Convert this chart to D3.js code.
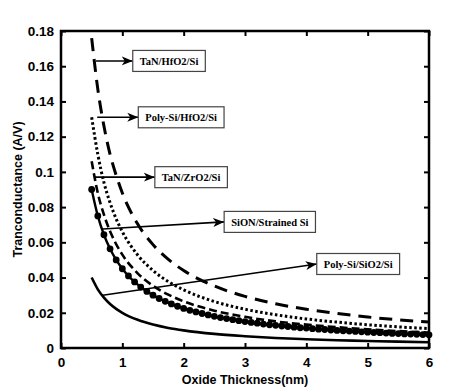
<!DOCTYPE html>
<html>
<head>
<meta charset="utf-8">
<script src="https://cdn.jsdelivr.net/npm/d3@7"></script>
<style>
  body { margin: 0; background: #fff; }
  .tick text { font-family: Arial, "Liberation Sans", sans-serif; font-weight: bold; font-size: 13.5px; }
</style>
</head>
<body>
<div id="chart"></div>
<script>
// x values (oxide thickness, nm) for the line series
const thickness = [0.5, 0.6, 0.7, 0.8, 0.9, 1.0, 1.25, 1.5, 1.75, 2.0, 2.5, 3.0, 3.5, 4.0, 4.5, 5.0, 5.5, 6.0];

// transconductance (A/V)
const tanHfo2 = [0.176, 0.147, 0.126, 0.110, 0.098, 0.088, 0.0704, 0.0587, 0.0503, 0.044, 0.0352, 0.0293, 0.0251, 0.022, 0.0196, 0.0176, 0.016, 0.0147];
const polyHfo2 = [0.131, 0.110, 0.094, 0.0825, 0.0733, 0.066, 0.0528, 0.044, 0.0377, 0.033, 0.0264, 0.022, 0.0189, 0.0165, 0.0147, 0.0132, 0.012, 0.011];
const tanZro2 = [0.106, 0.088, 0.0757, 0.0663, 0.0589, 0.053, 0.0424, 0.0353, 0.0303, 0.0265, 0.0212, 0.0177, 0.0151, 0.0133, 0.0118, 0.0106, 0.0096, 0.0088];
const polySio2 = [0.040, 0.0333, 0.0286, 0.025, 0.0222, 0.020, 0.016, 0.0133, 0.0114, 0.010, 0.008, 0.0067, 0.0057, 0.005, 0.0044, 0.004, 0.0036, 0.0033];

// SiON/Strained Si, marked every 0.1 nm
const sionThickness = [0.5, 0.6, 0.7, 0.8, 0.9, 1.0, 1.1, 1.2, 1.3, 1.4, 1.5, 1.6, 1.7, 1.8, 1.9, 2.0, 2.1, 2.2, 2.3, 2.4, 2.5, 2.6, 2.7, 2.8, 2.9, 3.0, 3.1, 3.2, 3.3, 3.4, 3.5, 3.6, 3.7, 3.8, 3.9, 4.0, 4.1, 4.2, 4.3, 4.4, 4.5, 4.6, 4.7, 4.8, 4.9, 5.0, 5.1, 5.2, 5.3, 5.4, 5.5, 5.6, 5.7, 5.8, 5.9, 6.0];
const sionStrained = [0.090, 0.075, 0.0643, 0.0563, 0.050, 0.045, 0.0409, 0.0375, 0.0346, 0.0321, 0.030, 0.0281, 0.0265, 0.025, 0.0237, 0.0225, 0.0214, 0.0205, 0.0196, 0.0188, 0.018, 0.0173, 0.0167, 0.0161, 0.0155, 0.015, 0.0145, 0.0141, 0.0136, 0.0132, 0.0129, 0.0125, 0.0122, 0.0118, 0.0115, 0.0113, 0.011, 0.0107, 0.0105, 0.0102, 0.010, 0.0098, 0.0096, 0.0094, 0.0092, 0.009, 0.0088, 0.0087, 0.0085, 0.0083, 0.0082, 0.008, 0.0079, 0.0078, 0.0076, 0.0075];

const xTicks = [0, 1, 2, 3, 4, 5, 6];
const yTicks = [0, 0.02, 0.04, 0.06, 0.08, 0.1, 0.12, 0.14, 0.16, 0.18];

// label boxes: arrow from (x0,y0) on the curve to (x1,y1), box starts at x1
const labels = ['TaN/HfO2/Si', 'Poly-Si/HfO2/Si', 'TaN/ZrO2/Si', 'SiON/Strained Si', 'Poly-Si/SiO2/Si'];
const labelArrows = [
  [0.57, 0.163, 1.17, 0.163],
  [0.59, 0.131, 1.26, 0.131],
  [0.54, 0.097, 1.53, 0.097],
  [0.68, 0.0676, 2.66, 0.0716],
  [0.68, 0.030, 4.17, 0.0477]
];

const W = 474, H = 392;
const margin = { top: 31, right: 45, bottom: 44, left: 61 };
const w = W - margin.left - margin.right;
const h = H - margin.top - margin.bottom;

const svg = d3.select('#chart').append('svg')
  .attr('width', W)
  .attr('height', H);

const g = svg.append('g')
  .attr('transform', 'translate(' + margin.left + ',' + margin.top + ')');

const x = d3.scaleLinear().domain([0, 6]).range([0, w]);
const y = d3.scaleLinear().domain([0, 0.18]).range([h, 0]);

const fmt = d => d === 0 ? '0' : String(+d.toFixed(2));

// axes, ticks pointing inwards
g.append('g')
  .attr('transform', 'translate(0,' + h + ')')
  .call(d3.axisBottom(x).tickValues(xTicks).tickSize(-5).tickPadding(9).tickFormat(d3.format('d')));
g.append('g')
  .call(d3.axisLeft(y).tickValues(yTicks).tickSize(-5).tickPadding(7).tickFormat(fmt));
g.append('g')
  .call(d3.axisTop(x).tickValues(xTicks).tickSize(-5).tickFormat(''));
g.append('g')
  .attr('transform', 'translate(' + w + ',0)')
  .call(d3.axisRight(y).tickValues(yTicks).tickSize(-5).tickFormat(''));

g.selectAll('.domain').remove();
g.selectAll('.tick line').attr('stroke', '#000').attr('stroke-width', 2);

const line = d3.line()
  .x(d => x(d[0]))
  .y(d => y(d[1]))
  .curve(d3.curveMonotoneX);

const series = [
  { values: tanHfo2, dash: '13,8', width: 3 },
  { values: polyHfo2, dash: '2.5,2.5', width: 3 },
  { values: tanZro2, dash: '8,4', width: 2.6 },
  { values: polySio2, dash: null, width: 2.6 }
];

series.forEach(s => {
  g.append('path')
    .datum(thickness.map((t, i) => [t, s.values[i]]))
    .attr('fill', 'none')
    .attr('stroke', '#000')
    .attr('stroke-width', s.width)
    .attr('stroke-dasharray', s.dash)
    .attr('d', line);
});

const sionPts = sionThickness.map((t, i) => [t, sionStrained[i]]);
g.append('path')
  .datum(sionPts)
  .attr('fill', 'none')
  .attr('stroke', '#000')
  .attr('stroke-width', 2.4)
  .attr('d', line);
g.selectAll('.sion-dot')
  .data(sionPts)
  .enter().append('circle')
    .attr('class', 'sion-dot')
    .attr('cx', d => x(d[0]))
    .attr('cy', d => y(d[1]))
    .attr('r', 3.4)
    .attr('fill', '#000');

// frame
g.append('rect')
  .attr('width', w)
  .attr('height', h)
  .attr('fill', 'none')
  .attr('stroke', '#000')
  .attr('stroke-width', 2.5);

// annotation arrows and boxes
svg.append('defs').append('marker')
  .attr('id', 'arrow')
  .attr('viewBox', '0 0 12 10')
  .attr('refX', 11)
  .attr('refY', 5)
  .attr('markerWidth', 12)
  .attr('markerHeight', 10)
  .attr('markerUnits', 'userSpaceOnUse')
  .attr('orient', 'auto')
  .append('path')
    .attr('d', 'M0,0.5 L11,5 L0,9.5 L3,5 Z')
    .attr('fill', '#000');

labels.forEach((txt, i) => {
  const a = labelArrows[i];
  g.append('line')
    .attr('x1', x(a[0])).attr('y1', y(a[1]))
    .attr('x2', x(a[2])).attr('y2', y(a[3]))
    .attr('stroke', '#000')
    .attr('stroke-width', 1.6)
    .attr('marker-end', 'url(#arrow)');

  const box = g.append('g');
  const t = box.append('text')
    .attr('x', x(a[2]) + 7)
    .attr('y', y(a[3]) + 3.7)
    .attr('font-family', '"Liberation Serif", "Times New Roman", serif')
    .attr('font-weight', 'bold')
    .attr('font-size', 10.5)
    .text(txt);
  const tw = t.node().getComputedTextLength();
  box.insert('rect', 'text')
    .attr('x', x(a[2]))
    .attr('y', y(a[3]) - 10.5)
    .attr('width', tw + 14)
    .attr('height', 21)
    .attr('fill', '#fff')
    .attr('stroke', '#444')
    .attr('stroke-width', 1.2);
});

// axis titles
svg.append('text')
  .attr('x', margin.left + w / 2)
  .attr('y', 384)
  .attr('text-anchor', 'middle')
  .attr('font-family', 'Arial, "Liberation Sans", sans-serif')
  .attr('font-weight', 'bold')
  .attr('font-size', 12.5)
  .text('Oxide Thickness(nm)');

svg.append('text')
  .attr('transform', 'translate(22,' + (margin.top + h / 2) + ') rotate(-90)')
  .attr('text-anchor', 'middle')
  .attr('font-family', 'Arial, "Liberation Sans", sans-serif')
  .attr('font-weight', 'bold')
  .attr('font-size', 12.5)
  .text('Tranconductance (A/V)');
</script>
</body>
</html>
